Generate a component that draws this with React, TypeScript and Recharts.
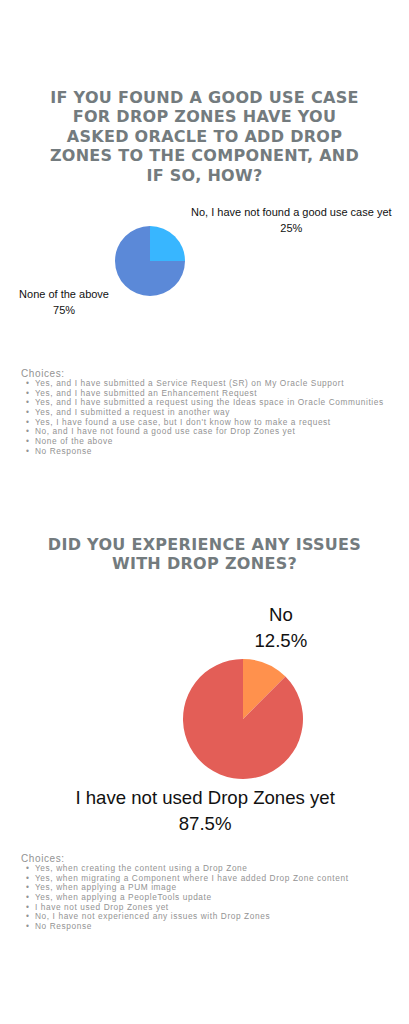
import { Cell, Pie, PieChart } from 'recharts';

// survey 1: Oracle drop zone requests
const askNames = ['No, I have not found a good use case yet', 'None of the above'];
const askCounts = [1, 3];
const askColors = ['#38b6ff', '#5b89d8'];
const askChoices = [
  'Yes, and I have submitted a Service Request (SR) on My Oracle Support',
  'Yes, and I have submitted an Enhancement Request',
  'Yes, and I have submitted a request using the Ideas space in Oracle Communities',
  'Yes, and I submitted a request in another way',
  "Yes, I have found a use case, but I don't know how to make a request",
  'No, and I have not found a good use case for Drop Zones yet',
  'None of the above',
  'No Response',
];

// survey 2: issues with drop zones
const issueNames = ['No', 'I have not used Drop Zones yet'];
const issueCounts = [1, 7];
const issueColors = ['#ff914d', '#e35e57'];
const issueChoices = [
  'Yes, when creating the content using a Drop Zone',
  'Yes, when migrating a Component where I have added Drop Zone content',
  'Yes, when applying a PUM image',
  'Yes, when applying a PeopleTools update',
  'I have not used Drop Zones yet',
  'No, I have not experienced any issues with Drop Zones',
  'No Response',
];

const RADIAN = Math.PI / 180;
const LABEL_FONT = '"Liberation Sans", Arial, sans-serif';

let ctx: CanvasRenderingContext2D | null = null;
function textWidth(s: string, size: number) {
  if (!ctx) ctx = document.createElement('canvas').getContext('2d');
  if (!ctx) return s.length * size * 0.45;
  ctx.font = `${size}px ${LABEL_FONT}`;
  return ctx.measureText(s).width;
}

const pct = (p: number) => `${+(p * 100).toFixed(1)}%`;

// google-style side labels: text block starts at the given radius and grows outward
function sideLabel(r: number, size: number, gap: number) {
  return (props: any) => {
    const { cx, cy, midAngle, name, percent } = props;
    const cos = Math.cos(-midAngle * RADIAN);
    const sin = Math.sin(-midAngle * RADIAN);
    const ex = cx + r * cos;
    const ey = cy + r * sin;
    const w = textWidth(name, size);
    const x = ex + (cos >= 0 ? 1 : -1) * (w / 2);
    return (
      <g fontFamily={LABEL_FONT} fontSize={size} fill="#111">
        <text x={x} y={ey - gap / 2} textAnchor="middle" dominantBaseline="central">{name}</text>
        <text x={x} y={ey + gap / 2} textAnchor="middle" dominantBaseline="central">{pct(percent)}</text>
      </g>
    );
  };
}

// centred labels along the slice bisector
function radialLabel(r: number, size: number, gap: number) {
  return (props: any) => {
    const { cx, cy, midAngle, name, percent } = props;
    const x = cx + r * Math.cos(-midAngle * RADIAN);
    const y = cy + r * Math.sin(-midAngle * RADIAN);
    return (
      <g fontFamily={LABEL_FONT} fontSize={size} fill="#111">
        <text x={x} y={y - gap / 2} textAnchor="middle" dominantBaseline="central">{name}</text>
        <text x={x} y={y + gap / 2} textAnchor="middle" dominantBaseline="central">{pct(percent)}</text>
      </g>
    );
  };
}

const titleStyle: React.CSSProperties = {
  position: 'absolute',
  left: 0,
  width: 409,
  textAlign: 'center',
  fontFamily: '"DejaVu Sans", sans-serif',
  fontWeight: 700,
  fontSize: 16,
  letterSpacing: 0.3,
  lineHeight: '19.4px',
  color: '#737b7e',
};

function ChoiceList({ items, top }: { items: string[]; top: number }) {
  return (
    <div
      style={{
        position: 'absolute',
        top,
        left: 21,
        fontFamily: '"Liberation Sans", Arial, sans-serif',
        color: '#939393',
        letterSpacing: 0.6,
      }}
    >
      <div style={{ fontSize: 10, lineHeight: '11px' }}>Choices:</div>
      {items.map((c) => (
        <div key={c} style={{ position: 'relative', fontSize: 8.3, lineHeight: '9.65px', paddingLeft: 14 }}>
          <span style={{ position: 'absolute', left: 5 }}>•</span>
          {c}
        </div>
      ))}
    </div>
  );
}

const noMargin = { top: 0, right: 0, bottom: 0, left: 0 };

export default function App() {
  const askData = askNames.map((name, i) => ({ name, value: askCounts[i] }));
  const issueData = issueNames.map((name, i) => ({ name, value: issueCounts[i] }));

  return (
    <div style={{ position: 'absolute', top: 0, left: 0, width: 409, height: 1024, background: '#fff', overflow: 'hidden' }}>
      <div style={{ ...titleStyle, top: 88 }}>
        IF YOU FOUND A GOOD USE CASE<br />
        FOR DROP ZONES HAVE YOU<br />
        ASKED ORACLE TO ADD DROP<br />
        ZONES TO THE COMPONENT, AND<br />
        IF SO, HOW?
      </div>

      <div style={{ position: 'absolute', top: 190, left: 0 }}>
        <PieChart width={409} height={140} margin={noMargin}>
          <Pie
            data={askData}
            dataKey="value"
            nameKey="name"
            cx={150}
            cy={71}
            outerRadius={35}
            startAngle={90}
            endAngle={-270}
            stroke="none"
            labelLine={false}
            label={sideLabel(58, 11, 15.5)}
            isAnimationActive={false}
          >
            {askData.map((d, i) => (
              <Cell key={d.name} fill={askColors[i]} />
            ))}
          </Pie>
        </PieChart>
      </div>

      <ChoiceList items={askChoices} top={368} />

      <div style={{ ...titleStyle, top: 535 }}>
        DID YOU EXPERIENCE ANY ISSUES<br />
        WITH DROP ZONES?
      </div>

      <div style={{ position: 'absolute', top: 600, left: 0 }}>
        <PieChart width={409} height={240} margin={noMargin}>
          <Pie
            data={issueData}
            dataKey="value"
            nameKey="name"
            cx={243}
            cy={119}
            outerRadius={60}
            startAngle={90}
            endAngle={-270}
            stroke="none"
            labelLine={false}
            label={radialLabel(99, 18.6, 26)}
            isAnimationActive={false}
          >
            {issueData.map((d, i) => (
              <Cell key={d.name} fill={issueColors[i]} />
            ))}
          </Pie>
        </PieChart>
      </div>

      <ChoiceList items={issueChoices} top={853} />
    </div>
  );
}
